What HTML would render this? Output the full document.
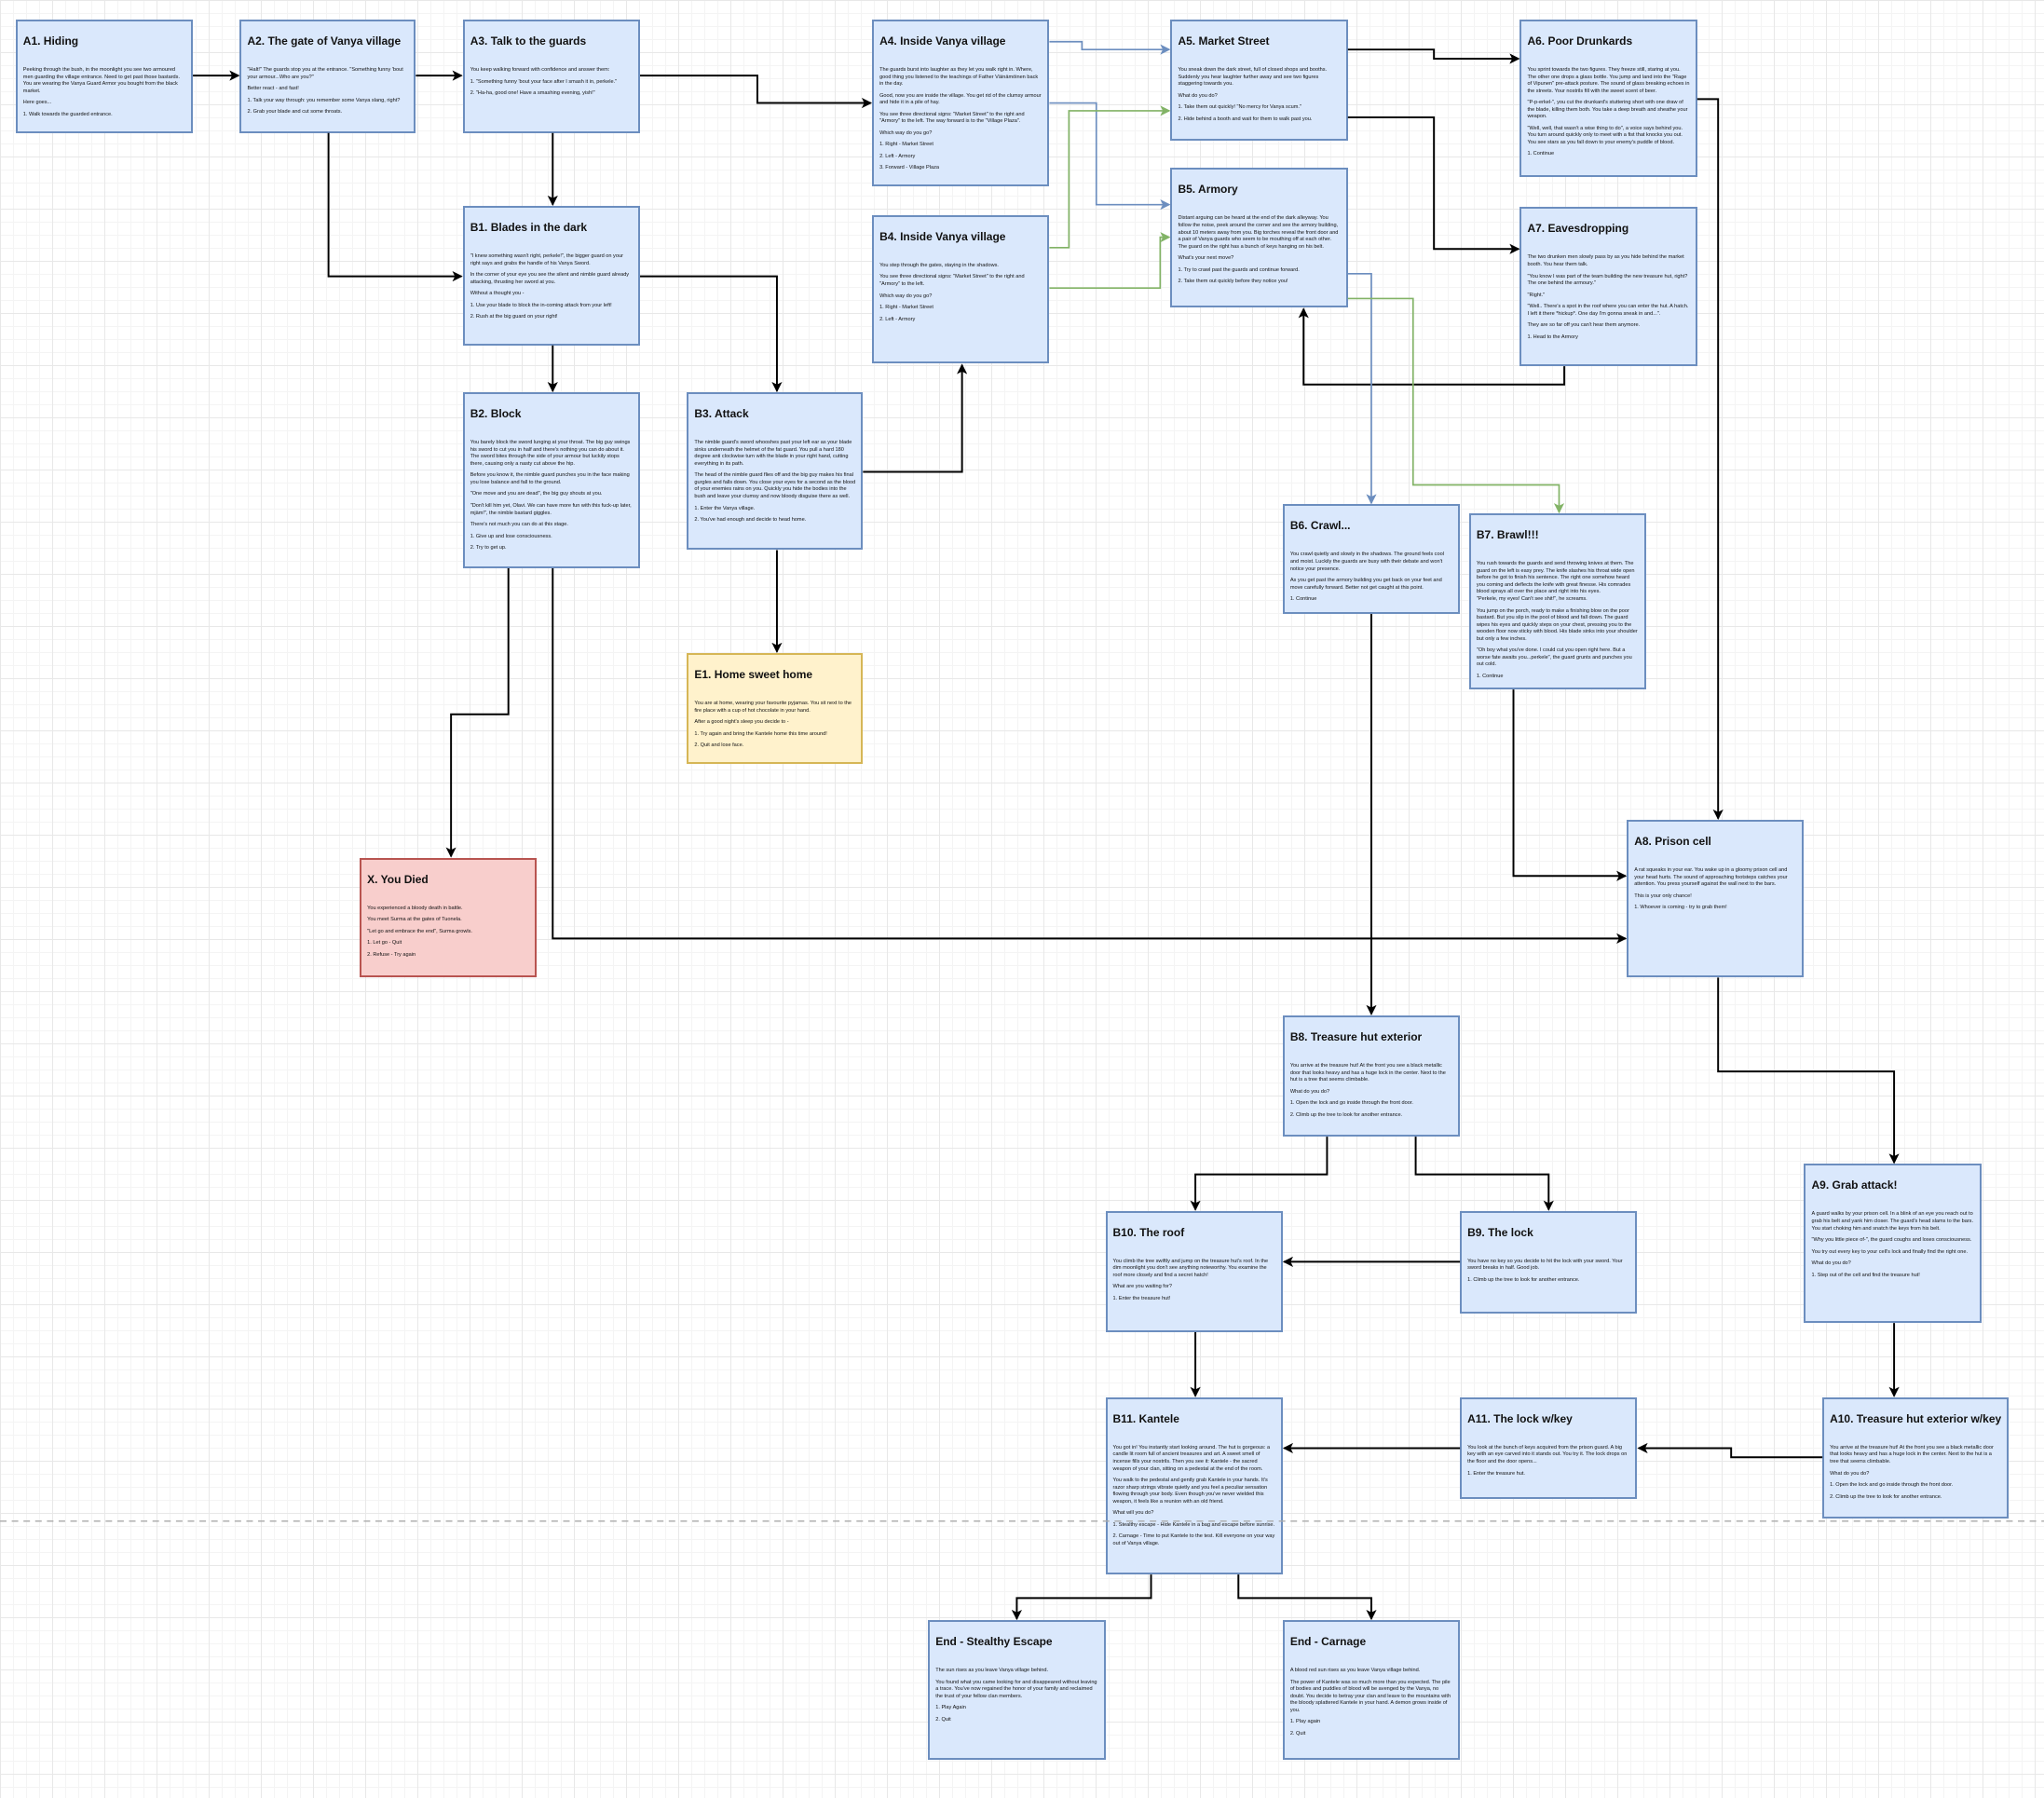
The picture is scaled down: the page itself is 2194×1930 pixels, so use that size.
<!DOCTYPE html>
<html><head><meta charset="utf-8"><style>
:root{--s:1.3992px}
html,body{margin:0;padding:0}
body{width:2194px;height:1930px;position:relative;overflow:hidden;background:#fff;
background-image:linear-gradient(#e8e8e8 1px,transparent 1px),linear-gradient(90deg,#e8e8e8 1px,transparent 1px),linear-gradient(#f4f4f4 1px,transparent 1px),linear-gradient(90deg,#f4f4f4 1px,transparent 1px);
background-size:56px 56px,56px 56px,14px 14px,14px 14px;font-family:"Liberation Sans",sans-serif}
.b{position:absolute;box-sizing:border-box;background:#dae8fc;border:2px solid #6c8ebf;padding:0 6px;overflow:hidden;color:#111}
.y{background:#fff2cc;border-color:#d6b656}
.r{background:#f8cecc;border-color:#b85450}
.b h{display:block;font-weight:bold;font-size:12px;margin-top:14px;height:35px}
.b p{font-size:5.6px;line-height:1.35;margin:0 0 5px}
svg{position:absolute;left:0;top:0}
</style></head><body>

<div class="b" style="left:calc(12*var(--s));top:calc(15*var(--s));width:calc(136*var(--s));height:calc(87*var(--s))"><h>A1. Hiding</h><p>Peeking through the bush, in the moonlight you see two armoured men guarding the village entrance. Need to get past those bastards. You are wearing the Vanya Guard Armor you bought from the black market.</p><p>Here goes...</p><p>1. Walk towards the guarded entrance.</p></div>

<div class="b" style="left:calc(184*var(--s));top:calc(15*var(--s));width:calc(135*var(--s));height:calc(87*var(--s))"><h>A2. The gate of Vanya village</h><p>"Halt!" The guards stop you at the entrance. "Something funny 'bout your armour...Who are you?"</p><p>Better react - and fast!</p><p>1. Talk your way through: you remember some Vanya slang, right?</p><p>2. Grab your blade and cut some throats.</p></div>

<div class="b" style="left:calc(355*var(--s));top:calc(15*var(--s));width:calc(136*var(--s));height:calc(87*var(--s))"><h>A3. Talk to the guards</h><p>You keep walking forward with confidence and answer them:</p><p>1. "Something funny 'bout your face after I smash it in, perkele."</p><p>2. "Ha-ha, good one! Have a smashing evening, yish!"</p></div>

<div class="b" style="left:calc(669*var(--s));top:calc(15*var(--s));width:calc(136*var(--s));height:calc(128*var(--s))"><h>A4. Inside Vanya village</h><p>The guards burst into laughter as they let you walk right in. Where, good thing you listened to the teachings of Father Väinämöinen back in the day.</p><p>Good, now you are inside the village. You get rid of the clumsy armour and hide it in a pile of hay.</p><p>You see three directional signs: "Market Street" to the right and "Armory" to the left. The way forward is to the "Village Plaza".</p><p>Which way do you go?</p><p>1. Right - Market Street</p><p>2. Left - Armory</p><p>3. Forward - Village Plaza</p></div>

<div class="b" style="left:calc(898*var(--s));top:calc(15*var(--s));width:calc(136*var(--s));height:calc(93*var(--s))"><h>A5. Market Street</h><p>You sneak down the dark street, full of closed shops and booths. Suddenly you hear laughter further away and see two figures staggering towards you.</p><p>What do you do?</p><p>1. Take them out quickly! "No mercy for Vanya scum."</p><p>2. Hide behind a booth and wait for them to walk past you.</p></div>

<div class="b" style="left:calc(1166*var(--s));top:calc(15*var(--s));width:calc(136*var(--s));height:calc(121*var(--s))"><h>A6. Poor Drunkards</h><p>You sprint towards the two figures. They freeze still, staring at you. The other one drops a glass bottle. You jump and land into the "Rage of Vipunen" pre-attack posture. The sound of glass breaking echoes in the streets. Your nostrils fill with the sweet scent of beer.</p><p>"P-p-erkel-", you cut the drunkard's stuttering short with one draw of the blade, killing them both. You take a deep breath and sheathe your weapon.</p><p>"Well, well, that wasn't a wise thing to do", a voice says behind you. You turn around quickly only to meet with a fist that knocks you out. You see stars as you fall down to your enemy's puddle of blood.</p><p>1. Continue</p></div>

<div class="b" style="left:calc(355*var(--s));top:calc(158*var(--s));width:calc(136*var(--s));height:calc(107*var(--s))"><h>B1. Blades in the dark</h><p>"I knew something wasn't right, perkele!", the bigger guard on your right says and grabs the handle of his Vanya Sword.</p><p>In the corner of your eye you see the silent and nimble guard already attacking, thrusting her sword at you.</p><p>Without a thought you -</p><p>1. Use your blade to block the in-coming attack from your left!</p><p>2. Rush at the big guard on your right!</p></div>

<div class="b" style="left:calc(669*var(--s));top:calc(165*var(--s));width:calc(136*var(--s));height:calc(114*var(--s))"><h>B4. Inside Vanya village</h><p>You step through the gates, staying in the shadows.</p><p>You see three directional signs: "Market Street" to the right and "Armory" to the left.</p><p>Which way do you go?</p><p>1. Right - Market Street</p><p>2. Left - Armory</p></div>

<div class="b" style="left:calc(898*var(--s));top:calc(129*var(--s));width:calc(136*var(--s));height:calc(107*var(--s))"><h>B5. Armory</h><p>Distant arguing can be heard at the end of the dark alleyway. You follow the noise, peek around the corner and see the armory building, about 10 meters away from you. Big torches reveal the front door and a pair of Vanya guards who seem to be mouthing off at each other. The guard on the right has a bunch of keys hanging on his belt.</p><p>What's your next move?</p><p>1. Try to crawl past the guards and continue forward.</p><p>2. Take them out quickly before they notice you!</p></div>

<div class="b" style="left:calc(1166*var(--s));top:calc(159*var(--s));width:calc(136*var(--s));height:calc(122*var(--s))"><h>A7. Eavesdropping</h><p>The two drunken men slowly pass by as you hide behind the market booth. You hear them talk.</p><p>"You know I was part of the team building the new treasure hut, right? The one behind the armoury."</p><p>"Right."</p><p>"Well.. There's a spot in the roof where you can enter the hut. A hatch. I left it there *hickup*. One day I'm gonna sneak in and...".</p><p>They are so far off you can't hear them anymore.</p><p>1. Head to the Armory</p></div>

<div class="b" style="left:calc(355*var(--s));top:calc(301*var(--s));width:calc(136*var(--s));height:calc(135*var(--s))"><h>B2. Block</h><p>You barely block the sword lunging at your throat. The big guy swings his sword to cut you in half and there's nothing you can do about it. The sword bites through the side of your armour but luckily stops there, causing only a nasty cut above the hip.</p><p>Before you know it, the nimble guard punches you in the face making you lose balance and fall to the ground.</p><p>"One move and you are dead", the big guy shouts at you.</p><p>"Don't kill him yet, Olavi. We can have more fun with this fuck-up later, mjäm!", the nimble bastard giggles.</p><p>There's not much you can do at this stage.</p><p>1. Give up and lose consciousness.</p><p>2. Try to get up.</p></div>

<div class="b" style="left:calc(527*var(--s));top:calc(301*var(--s));width:calc(135*var(--s));height:calc(121*var(--s))"><h>B3. Attack</h><p>The nimble guard's sword whooshes past your left ear as your blade sinks underneath the helmet of the fat guard. You pull a hard 180 degree anti clockwise turn with the blade in your right hand, cutting everything in its path.</p><p>The head of the nimble guard flies off and the big guy makes his final gurgles and falls down. You close your eyes for a second as the blood of your enemies rains on you. Quickly you hide the bodies into the bush and leave your clumsy and now bloody disguise there as well.</p><p>1. Enter the Vanya village.</p><p>2. You've had enough and decide to head home.</p></div>

<div class="b y" style="left:calc(527*var(--s));top:calc(501*var(--s));width:calc(135*var(--s));height:calc(85*var(--s))"><h>E1. Home sweet home</h><p>You are at home, wearing your favourite pyjamas. You sit next to the fire place with a cup of hot chocolate in your hand.</p><p>After a good night's sleep you decide to -</p><p>1. Try again and bring the Kantele home this time around!</p><p>2. Quit and lose face.</p></div>

<div class="b" style="left:calc(984*var(--s));top:calc(387*var(--s));width:calc(136*var(--s));height:calc(84*var(--s))"><h>B6. Crawl...</h><p>You crawl quietly and slowly in the shadows. The ground feels cool and moist. Luckily the guards are busy with their debate and won't notice your presence.</p><p>As you get past the armory building you get back on your feet and move carefully forward. Better not get caught at this point.</p><p>1. Continue</p></div>

<div class="b" style="left:calc(1127*var(--s));top:calc(394*var(--s));width:calc(136*var(--s));height:calc(135*var(--s))"><h>B7. Brawl!!!</h><p>You rush towards the guards and send throwing knives at them. The guard on the left is easy prey. The knife slashes his throat wide open before he got to finish his sentence. The right one somehow heard you coming and deflects the knife with great finesse. His comrades blood sprays all over the place and right into his eyes.<br>"Perkele, my eyes! Can't see shit!", he screams.</p><p>You jump on the porch, ready to make a finishing blow on the poor bastard. But you slip in the pool of blood and fall down. The guard wipes his eyes and quickly steps on your chest, pressing you to the wooden floor now sticky with blood. His blade sinks into your shoulder but only a few inches.</p><p>"Oh boy what you've done. I could cut you open right here. But a worse fate awaits you...perkele", the guard grunts and punches you out cold.</p><p>1. Continue</p></div>

<div class="b r" style="left:calc(276*var(--s));top:calc(658*var(--s));width:calc(136*var(--s));height:calc(92*var(--s))"><h>X. You Died</h><p>You experienced a bloody death in battle.</p><p>You meet Surma at the gates of Tuonela.</p><p>"Let go and embrace the end", Surma growls.</p><p>1. Let go - Quit</p><p>2. Refuse - Try again</p></div>

<div class="b" style="left:calc(1248*var(--s));top:calc(629*var(--s));width:calc(136*var(--s));height:calc(121*var(--s))"><h>A8. Prison cell</h><p>A rat squeaks in your ear. You wake up in a gloomy prison cell and your head hurts. The sound of approaching footsteps catches your attention. You press yourself against the wall next to the bars.</p><p>This is your only chance!</p><p>1. Whoever is coming - try to grab them!</p></div>

<div class="b" style="left:calc(984*var(--s));top:calc(779*var(--s));width:calc(136*var(--s));height:calc(93*var(--s))"><h>B8. Treasure hut exterior</h><p>You arrive at the treasure hut! At the front you see a black metallic door that looks heavy and has a huge lock in the center. Next to the hut is a tree that seems climbable.</p><p>What do you do?</p><p>1. Open the lock and go inside through the front door.</p><p>2. Climb up the tree to look for another entrance.</p></div>

<div class="b" style="left:calc(848*var(--s));top:calc(929*var(--s));width:calc(136*var(--s));height:calc(93*var(--s))"><h>B10. The roof</h><p>You climb the tree swiftly and jump on the treasure hut's roof. In the dim moonlight you don't see anything noteworthy. You examine the roof more closely and find a secret hatch!</p><p>What are you waiting for?</p><p>1. Enter the treasure hut!</p></div>

<div class="b" style="left:calc(1120*var(--s));top:calc(929*var(--s));width:calc(136*var(--s));height:calc(79*var(--s))"><h>B9. The lock</h><p>You have no key so you decide to hit the lock with your sword. Your sword breaks in half. Good job.</p><p>1. Climb up the tree to look for another entrance.</p></div>

<div class="b" style="left:calc(1384*var(--s));top:calc(893*var(--s));width:calc(136*var(--s));height:calc(122*var(--s))"><h>A9. Grab attack!</h><p>A guard walks by your prison cell. In a blink of an eye you reach out to grab his belt and yank him closer. The guard's head slams to the bars. You start choking him and snatch the keys from his belt.</p><p>"Why you little piece of-", the guard coughs and loses consciousness.</p><p>You try out every key to your cell's lock and finally find the right one.</p><p>What do you do?</p><p>1. Step out of the cell and find the treasure hut!</p></div>

<div class="b" style="left:calc(848*var(--s));top:calc(1072*var(--s));width:calc(136*var(--s));height:calc(136*var(--s))"><h>B11. Kantele</h><p>You got in! You instantly start looking around. The hut is gorgeous: a candle lit room full of ancient treasures and art. A sweet smell of incense fills your nostrils. Then you see it: Kantele - the sacred weapon of your clan, sitting on a pedestal at the end of the room.</p><p>You walk to the pedestal and gently grab Kantele in your hands. It's razor sharp strings vibrate quietly and you feel a peculiar sensation flowing through your body. Even though you've never wielded this weapon, it feels like a reunion with an old friend.</p><p>What will you do?</p><p>1. Stealthy escape - Hide Kantele in a bag and escape before sunrise.</p><p>2. Carnage - Time to put Kantele to the test. Kill everyone on your way out of Vanya village.</p></div>

<div class="b" style="left:calc(1120*var(--s));top:calc(1072*var(--s));width:calc(136*var(--s));height:calc(78*var(--s))"><h>A11. The lock w/key</h><p>You look at the bunch of keys acquired from the prison guard. A big key with an eye carved into it stands out. You try it. The lock drops on the floor and the door opens...</p><p>1. Enter the treasure hut.</p></div>

<div class="b" style="left:calc(1398*var(--s));top:calc(1072*var(--s));width:calc(143*var(--s));height:calc(93*var(--s))"><h>A10. Treasure hut exterior w/key</h><p>You arrive at the treasure hut! At the front you see a black metallic door that looks heavy and has a huge lock in the center. Next to the hut is a tree that seems climbable.</p><p>What do you do?</p><p>1. Open the lock and go inside through the front door.</p><p>2. Climb up the tree to look for another entrance.</p></div>

<div class="b" style="left:calc(712*var(--s));top:calc(1243*var(--s));width:calc(136*var(--s));height:calc(107*var(--s))"><h>End - Stealthy Escape</h><p>The sun rises as you leave Vanya village behind.</p><p>You found what you came looking for and disappeared without leaving a trace. You've now regained the honor of your family and reclaimed the trust of your fellow clan members.</p><p>1. Play Again</p><p>2. Quit</p></div>

<div class="b" style="left:calc(984*var(--s));top:calc(1243*var(--s));width:calc(136*var(--s));height:calc(107*var(--s))"><h>End - Carnage</h><p>A blood red sun rises as you leave Vanya village behind.</p><p>The power of Kantele was so much more than you expected. The pile of bodies and puddles of blood will be avenged by the Vanya, no doubt. You decide to betray your clan and leave to the mountains with the bloody splattered Kantele in your hand. A demon grows inside of you.</p><p>1. Play again</p><p>2. Quit</p></div>

<svg width="2194" height="1930" viewBox="0 0 1568 1379.4" preserveAspectRatio="none">
<defs>
<marker id="k" markerWidth="8" markerHeight="8" refX="7" refY="4" orient="auto" markerUnits="userSpaceOnUse"><path d="M0,0 L8,4 L0,8 L2,4z" fill="#000"/></marker>
<marker id="bl" markerWidth="8" markerHeight="8" refX="7" refY="4" orient="auto" markerUnits="userSpaceOnUse"><path d="M0,0 L8,4 L0,8 L2,4z" fill="#6c8ebf"/></marker>
<marker id="gr" markerWidth="8" markerHeight="8" refX="7" refY="4" orient="auto" markerUnits="userSpaceOnUse"><path d="M0,0 L8,4 L0,8 L2,4z" fill="#82b366"/></marker>
</defs>
<line x1="0" y1="1167" x2="1568" y2="1167" stroke="#aaa" stroke-width="1" stroke-dasharray="5,4"/>
<g fill="none" stroke="#000" stroke-width="1.4" marker-end="url(#k)">
<path d="M148,58H183"/>
<path d="M319,58H354"/>
<path d="M491,58H581V79H668"/>
<path d="M424,102V157"/>
<path d="M252,102V212H354"/>
<path d="M1034,38H1100V45H1165"/>
<path d="M1034,90H1100V191H1165"/>
<path d="M1200,281V295H1000V237"/>
<path d="M1302,76H1318V628"/>
<path d="M424,265V300"/>
<path d="M491,212H596V300"/>
<path d="M662,362H738V280"/>
<path d="M596,422V500"/>
<path d="M390,436V548H346V657"/>
<path d="M424,436V720H1247"/>
<path d="M1052,471V778"/>
<path d="M1161,529V672H1247"/>
<path d="M1318,750V822H1453V892"/>
<path d="M1018,872V901H917V928"/>
<path d="M1086,872V901H1188V928"/>
<path d="M1120,968H985"/>
<path d="M917,1022V1071"/>
<path d="M1453,1015V1071"/>
<path d="M1398,1118H1328V1111H1257"/>
<path d="M1120,1111H985"/>
<path d="M883,1208V1226H780V1242"/>
<path d="M950,1208V1226H1052V1242"/>
</g>
<g fill="none" stroke="#6c8ebf" stroke-width="1.2" marker-end="url(#bl)">
<path d="M805,32H830V38H897"/>
<path d="M805,79H841V157H897"/>
<path d="M1034,210H1052V386"/>
</g>
<g fill="none" stroke="#82b366" stroke-width="1.2" marker-end="url(#gr)">
<path d="M805,190H820V85H897"/>
<path d="M805,221H890V182H897"/>
<path d="M1034,229H1084V372H1196V393"/>
</g>
</svg>
</body></html>
